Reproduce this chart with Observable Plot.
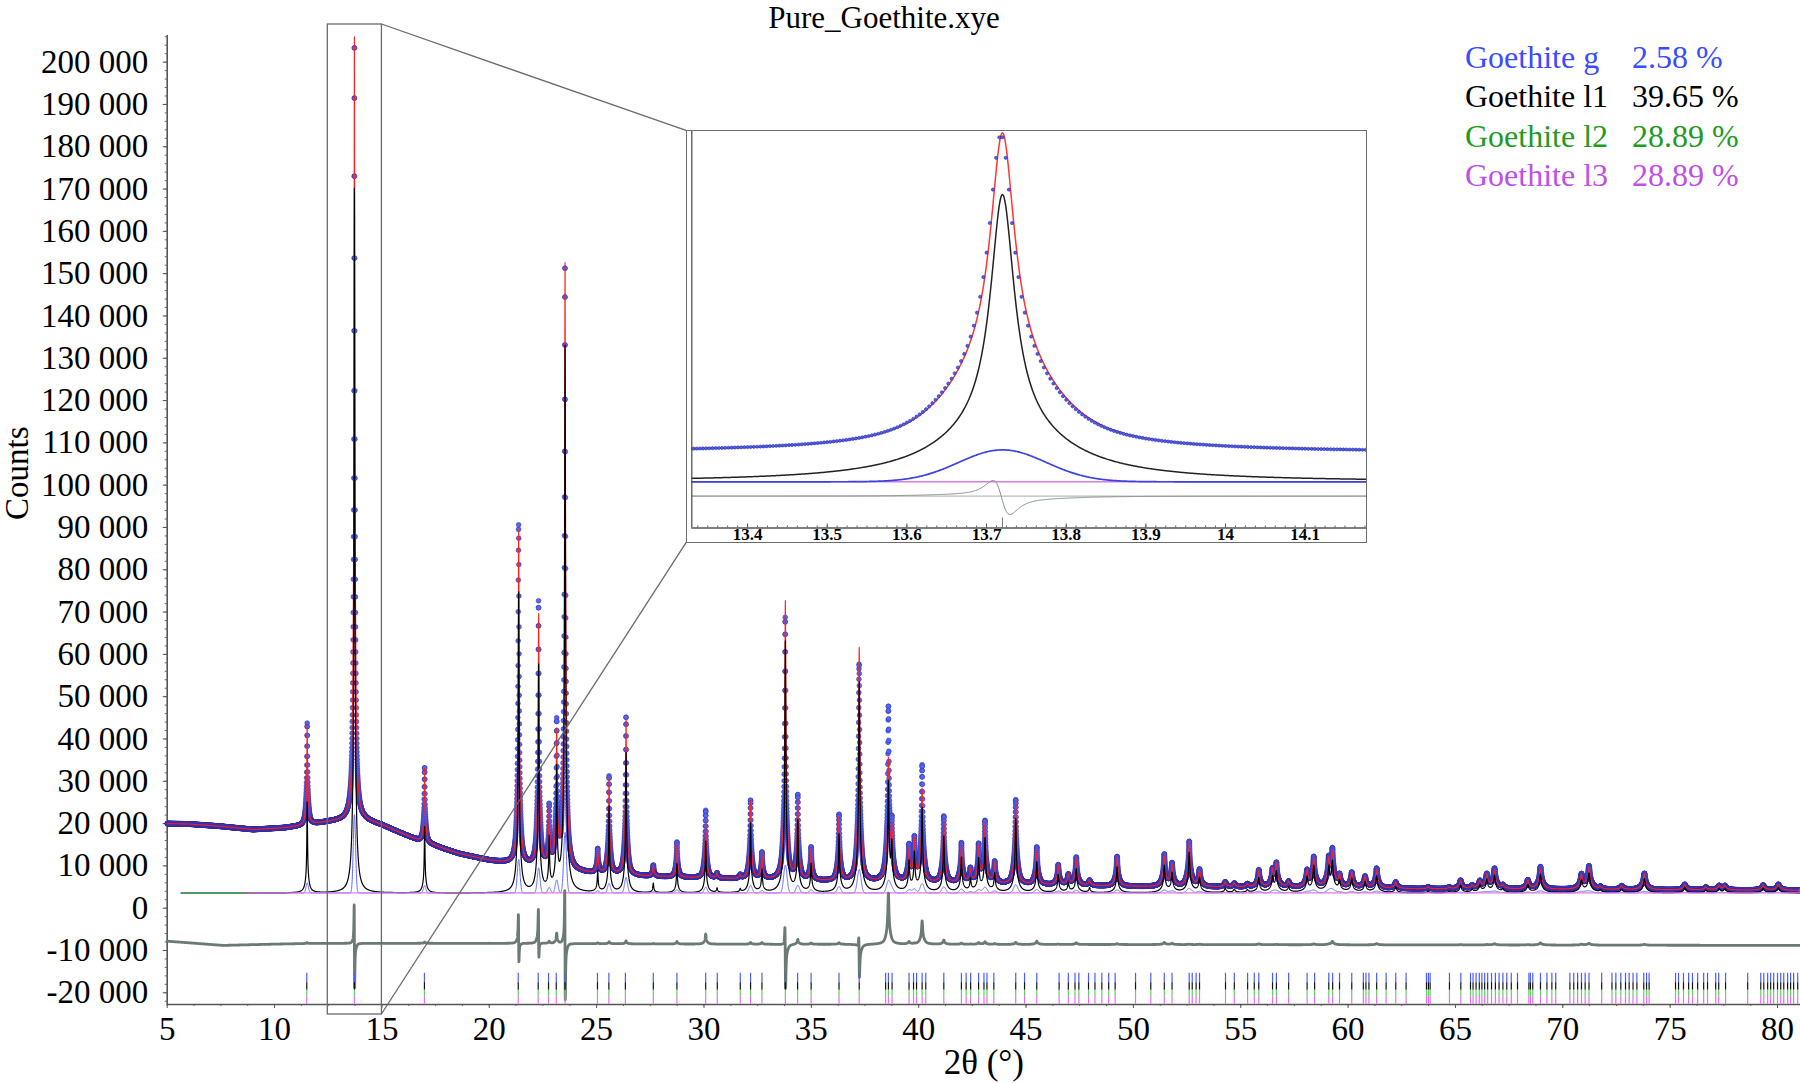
<!DOCTYPE html>
<html>
<head>
<meta charset="utf-8">
<script src="https://cdn.jsdelivr.net/npm/d3@7"></script>
<script src="https://cdn.jsdelivr.net/npm/@observablehq/plot@0.6"></script>
<style>
  body { margin: 0; background: #fff; }
  #fig { position: relative; width: 1800px; height: 1083px; font-family: "Liberation Serif", "Times New Roman", serif; overflow: hidden; }
  #fig > svg { position: absolute; left: 0; top: 0; }
  #title { position: absolute; left: 0; width: 1768px; top: 2px; text-align: center; font-size: 31px; line-height: 31px; color: #000; }
  #legend { position: absolute; left: 1465px; top: 38px; font-size: 32px; line-height: 39.4px; }
  #legend .row { display: flex; white-space: nowrap; }
  #legend .name { width: 167px; }
  #inset { position: absolute; left: 686px; top: 130px; width: 679px; height: 411px; border: 1.3px solid #6d6d6d; background: #fff; }
  #inset svg { position: absolute; left: 0; top: 0; overflow: visible; }
</style>
</head>
<body>
<div id="fig"></div>
<script>
// ---- Refinement of Pure_Goethite.xye (2θ in degrees, intensities in counts) ----

// Peaks: [2θ, observed top, calculated top]
const peakTable = [
  [11.52, 43700, 43500], [13.72, 205000, 206000], [16.99, 33300, 33000],
  [21.37, 90500, 89000], [22.30, 72000, 69000], [22.79, 23000, 22500],
  [23.14, 42400, 40000], [23.53, 151500, 152000], [25.05, 13700, 13500],
  [25.58, 31000, 30500], [26.37, 45200, 44500], [27.64, 10100, 10000],
  [28.74, 15600, 15000], [30.08, 23100, 20700], [30.61, 8200, 8200],
  [31.69, 7700, 7700], [32.17, 25400, 25000], [32.70, 12900, 12500],
  [33.79, 68500, 72500], [34.37, 26200, 25000], [34.99, 14100, 13800],
  [36.29, 21900, 21500], [37.23, 57500, 61500], [38.59, 46300, 34200],
  [38.75, 16800, 16800], [39.55, 14100, 13500], [39.80, 15600, 15500],
  [40.16, 33300, 27800], [41.17, 21500, 20500], [41.99, 15100, 14800],
  [42.41, 8900, 8800], [42.79, 14400, 14000], [43.09, 20100, 19500],
  [43.54, 10600, 10400], [44.52, 25500, 25000], [45.50, 14300, 13500],
  [46.50, 10100, 10000], [46.97, 7700, 7700], [47.34, 11900, 11500],
  [47.96, 6500, 6500], [49.24, 12200, 12000], [51.44, 12500, 12000],
  [51.80, 10300, 10000], [52.60, 15600, 15500], [53.08, 8900, 8800],
  [54.28, 6100, 6100], [54.70, 5800, 5800], [55.31, 5600, 5600],
  [55.84, 8900, 8700], [56.48, 8500, 8500], [56.66, 10100, 10000],
  [57.23, 6100, 6100], [58.09, 8500, 8500], [58.40, 11700, 11500],
  [59.10, 10600, 10500], [59.27, 12800, 12000], [59.60, 7300, 7300],
  [60.17, 8200, 8200], [60.79, 7300, 7300], [61.33, 9300, 9000],
  [62.22, 6100, 6100], [63.73, 5000, 5000], [64.71, 4900, 4900],
  [65.24, 6500, 6400], [65.78, 5200, 5200], [66.14, 6100, 6100],
  [66.46, 7700, 7600], [66.82, 9100, 8800], [67.21, 5200, 5200],
  [68.37, 6500, 6400], [68.96, 9700, 9200], [70.87, 7700, 7500],
  [71.22, 9700, 9300], [71.75, 4900, 4900], [72.74, 5200, 5200],
  [73.80, 8200, 8000], [75.68, 5600, 5600], [76.66, 4900, 4900],
  [77.28, 5200, 5200], [77.55, 5200, 5200], [79.33, 5400, 5400],
  [80.04, 5600, 5600]
];

// Offset of the observed peak centre from the calculated one: [2θ, Δ2θ]
const obsShifts = [
  [13.72, -0.002], [21.37, -0.003], [22.30, -0.004], [23.53, -0.004],
  [33.79, -0.006], [37.23, -0.005]
];

// Refined background: [2θ, counts]
const bgKnots = [
  [5, 20000], [6, 19900], [7.4, 19400], [9, 18600], [10.4, 19000], [11.2, 19400],
  [12.5, 20400], [13.3, 20800], [13.7, 20900], [14.2, 20700], [15, 19600],
  [16, 17500], [16.7, 16000], [17.4, 14900], [18.6, 12900], [20, 11300],
  [21, 10500], [22, 9700], [23, 9200], [24, 8500], [25, 8100], [27, 7600],
  [30, 7100], [33, 6700], [36, 6300], [40, 5900], [45, 5500], [50, 5100],
  [55, 4900], [60, 4700], [65, 4500], [70, 4400], [75, 4300], [81.1, 4200]
];

// Peak broadening relative to the 13.72° reflection: [2θ, factor]
const widthKnots = [[5, 1], [14, 1], [30, 1.3], [45, 1.8], [60, 2.4], [81.1, 3.2]];

// Offset line of the difference curve (obs − calc): [2θ, counts]
const diffKnots = [[5, -7800], [7.6, -8800], [10, -8500], [12, -8300], [20, -8300], [30, -8500], [50, -8600], [81.1, -8800]];

// Reflection markers (2θ)
const reflections = [
  11.50, 13.72, 16.98, 21.35, 22.28, 22.76, 23.12, 23.53, 25.04, 25.57, 26.34,
  27.64, 28.74, 30.08, 30.62, 31.69, 32.17, 32.70, 33.79, 34.36, 34.99, 36.29,
  37.23, 38.46, 38.59, 38.76, 39.55, 39.76, 39.90, 40.16, 40.33, 41.17, 41.99,
  42.21, 42.42, 42.79, 43.04, 43.18, 43.50, 44.52, 44.93, 45.50, 46.54, 46.97,
  47.28, 47.46, 47.91, 48.21, 48.53, 48.85, 49.15, 50.10, 50.81, 51.44, 51.80,
  52.60, 52.74, 52.92, 53.08, 54.29, 54.70, 55.32, 55.63, 55.84, 56.48, 56.66,
  57.23, 58.09, 58.44, 59.10, 59.28, 59.60, 60.17, 60.71, 60.83, 60.97, 61.33,
  61.77, 62.22, 62.70, 63.65, 63.74, 63.82, 64.72, 65.25, 65.70, 65.82, 65.96,
  66.11, 66.23, 66.36, 66.50, 66.68, 66.86, 67.03, 67.21, 67.39, 67.60, 67.89,
  68.42, 68.49, 68.60, 68.96, 69.26, 69.49, 69.67, 70.33, 70.51, 70.69, 70.87,
  71.04, 71.22, 71.81, 72.29, 72.47, 72.70, 72.92, 73.09, 73.27, 73.45, 73.77,
  73.90, 74.02, 75.25, 75.39, 75.62, 75.86, 76.04, 76.28, 76.56, 76.74, 77.12,
  77.26, 77.58, 78.61, 79.22, 79.36, 79.54, 79.68, 79.82, 80.00, 80.15, 80.29,
  80.47, 80.61, 80.75, 80.94
];

// Phases and weight fractions
const phaseNames  = ["Goethite g", "Goethite l1", "Goethite l2", "Goethite l3"];
const phaseWt     = ["2.58 %", "39.65 %", "28.89 %", "28.89 %"];
const phaseColors = ["#3a4cff", "#000000", "#229a22", "#c04ee8"];

// Axis ticks
const yMajor = d3.range(-20000, 200001, 10000);
const yMinor = d3.range(-22000, 206001, 2000);
const xMajor = d3.range(5, 81, 5);
const xMinor = d3.range(5, 81.1, 1.25);
const insetMajor = [13.4, 13.5, 13.6, 13.7, 13.8, 13.9, 14, 14.1];
const insetMinor = d3.range(13.3375, 14.18, 0.0125);

// ---- profile model ----
const componentBase = 3600;     // zero level of the phase components
const insetDiffOffset = -4700;  // difference offset in the enlarged view
const step = 0.004;             // data step (°2θ)
const xDomain = [5, 81.07];
const insetDomain = [13.33, 14.177];
const zoomWindow = [12.48, 15.0];

const lerp = (knots, x) => {
  if (x <= knots[0][0]) return knots[0][1];
  for (let i = 1; i < knots.length; i++) {
    if (x <= knots[i][0]) {
      const [x0, y0] = knots[i - 1], [x1, y1] = knots[i];
      return y0 + (y1 - y0) * (x - x0) / (x1 - x0);
    }
  }
  return knots[knots.length - 1][1];
};
const shiftOf = new Map(obsShifts);
const lorentz = (d, w) => 0.8 / (1 + (d / w) ** 2) + 0.2 / (1 + (d / (5 * w)) ** 2);
const gauss = (d, s) => Math.exp(-d * d / (2 * s * s));
const peaks = peakTable.map(([p, o, c]) => {
  const b = lerp(bgKnots, p), k = lerp(widthKnots, p);
  return { p, s: shiftOf.get(p) || 0, hc: c - b, ho: o - b, w: 0.018 * k, sg: 0.055 * k };
});
function evaluate(t, diffOffset) {
  let l1 = 0, g = 0, ob = 0;
  for (const pk of peaks) {
    const d = t - pk.p;
    if (d > 3 || d < -3) continue;
    l1 += 0.9 * pk.hc * lorentz(d, pk.w);
    g += 0.1 * pk.hc * gauss(d, pk.sg);
    const d2 = d - pk.s;
    ob += pk.ho * (0.9 * lorentz(d2, pk.w) + 0.1 * gauss(d2, pk.sg));
  }
  const b = lerp(bgKnots, t);
  const obs = b + ob, calc = b + l1 + g;
  return { t, obs, calc, l1: componentBase + l1, g: componentBase + g, diff: obs - calc + diffOffset };
}
const apexes = peaks.flatMap(pk => [pk.p, pk.p + pk.s]);
const mainObs = d3.range(xDomain[0], xDomain[1], step).map(t => evaluate(t, lerp(diffKnots, t)));
const mainLine = d3.sort(d3.range(xDomain[0], xDomain[1], step).concat(apexes)).map(t => evaluate(t, lerp(diffKnots, t)));
const mainComp = mainLine.filter(d => d.t >= 5.65);
const insetObs = d3.range(insetDomain[0] - 0.01, insetDomain[1] + 0.01, step).map(t => evaluate(t, insetDiffOffset));
const insetLine = d3.sort(d3.range(insetDomain[0] - 0.01, insetDomain[1] + 0.01, 0.001).concat(apexes.filter(a => a > 13 && a < 14.5))).map(t => evaluate(t, insetDiffOffset));

const fmtCounts = v => (v < 0 ? "-" : "") + String(Math.abs(v)).replace(/\B(?=(\d{3})+(?!\d))/g, " ");

// ---- main chart ----
const main = Plot.plot({
  width: 1800, height: 1083,
  marginLeft: 166.7, marginRight: 0, marginTop: 35, marginBottom: 79,
  x: { domain: xDomain },
  y: { domain: [-22770, 206300] },
  style: { fontFamily: "'Liberation Serif', 'Times New Roman', serif", background: "transparent", color: "#000", overflow: "visible" },
  marks: [
    Plot.axisY({ ticks: yMinor, tickSize: 2, tickFormat: () => "", stroke: "#666", label: null }),
    Plot.axisY({ ticks: yMajor, tickSize: 4, tickPadding: 15, tickFormat: fmtCounts, fontSize: 33, stroke: "#555", label: null }),
    Plot.axisX({ ticks: xMinor, tickSize: 2, tickFormat: () => "", stroke: "#666", label: null }),
    Plot.axisX({ ticks: xMajor, tickSize: 4, tickPadding: 8, fontSize: 33, stroke: "#555", label: null }),
    Plot.ruleX([xDomain[0]], { stroke: "#555", strokeWidth: 1.6 }),
    Plot.ruleY([-22770], { stroke: "#555", strokeWidth: 1.6 }),
    // observed
    Plot.dot(mainObs, { x: "t", y: "obs", r: 2.4, fill: "#4d68ff", stroke: "#35299a", strokeWidth: 0.5 }),
    // calculated
    Plot.line(mainLine, { x: "t", y: "calc", stroke: "#ff1f1f", strokeWidth: 1.1 }),
    // phase components
    Plot.line(mainComp, { x: "t", y: "g", stroke: "#5a66ff", strokeWidth: 1 }),
    Plot.line(mainComp, { x: "t", y: "l1", stroke: "#000", strokeWidth: 1.2 }),
    Plot.ruleY([componentBase], { x1: 5.65, x2: 8.7, stroke: "#5cc45c", strokeWidth: 1.3 }),
    Plot.ruleY([componentBase], { x1: 8.7, x2: xDomain[1], stroke: "#e27ae8", strokeWidth: 1.3 }),
    // difference
    Plot.line(mainLine, { x: "t", y: "diff", stroke: "#6b7a72", strokeWidth: 2.8 }),
    // reflection markers
    Plot.ruleX(reflections, { x: d => d, y1: -15400, y2: -17600, stroke: "#4b5cff", strokeWidth: 1.2 }),
    Plot.ruleX(reflections, { x: d => d, y1: -17600, y2: -19400, stroke: "#111", strokeWidth: 1.2 }),
    Plot.ruleX(reflections, { x: d => d, y1: -19400, y2: -20900, stroke: "#62d062", strokeWidth: 1.2 }),
    Plot.ruleX(reflections, { x: d => d, y1: -20900, y2: -22700, stroke: "#e070f0", strokeWidth: 1.2 }),
    // axis titles
    Plot.text(["Counts"], { frameAnchor: "left", dx: -149.7, rotate: -90, fontSize: 33, fill: "#000" }),
    Plot.text(["2θ (°)"], { frameAnchor: "bottom", dy: 58, lineAnchor: "middle", fontSize: 35, fill: "#000" })
  ]
});

const fig = document.getElementById("fig");
fig.appendChild(main);

// zoom window and connector lines, placed with the chart's own x scale
const xs = main.scale("x");
const bx1 = xs.apply(zoomWindow[0]), bx2 = xs.apply(zoomWindow[1]);
const boxTop = 35 - 11, boxBottom = 1004 + 10;
const insetLeft = 686.7, insetTop = 130.7, insetBottom = 541.7;
const deco = d3.select(main).append("g").attr("fill", "none").attr("stroke", "#6a6a6a").attr("stroke-width", 1.3);
deco.append("rect").attr("x", bx1).attr("y", boxTop).attr("width", bx2 - bx1).attr("height", boxBottom - boxTop);
deco.append("line").attr("x1", bx2).attr("y1", boxTop).attr("x2", insetLeft).attr("y2", insetTop);
deco.append("line").attr("x1", bx2).attr("y1", boxBottom).attr("x2", insetLeft).attr("y2", insetBottom);

// ---- enlarged view of the 13.72° reflection ----
const insetDiv = document.createElement("div");
insetDiv.id = "inset";
fig.appendChild(insetDiv);
const iH = 411, iBottom = 14.5;
const iY = [-23200, 206750];
const pxPerCount = (iH - iBottom) / (iY[1] - iY[0]);
const inset = Plot.plot({
  width: 679, height: iH,
  marginLeft: 4.3, marginRight: 0, marginTop: 0, marginBottom: iBottom,
  x: { domain: insetDomain },
  y: { domain: iY, axis: null },
  style: { fontFamily: "'Liberation Serif', 'Times New Roman', serif", background: "transparent", color: "#000", overflow: "visible" },
  marks: [
    Plot.ruleY([insetDiffOffset], { stroke: "#b4bcbc", strokeWidth: 1.2 }),
    Plot.ruleY([componentBase], { stroke: "#d77be6", strokeWidth: 1.5 }),
    Plot.line(insetLine, { x: "t", y: "l1", stroke: "#222", strokeWidth: 1.5, clip: true }),
    Plot.line(insetLine, { x: "t", y: "g", stroke: "#3c44e0", strokeWidth: 1.7, clip: true }),
    Plot.line(insetLine, { x: "t", y: "calc", stroke: "#ff3434", strokeWidth: 1.5, clip: true }),
    Plot.dot(insetObs, { x: "t", y: "obs", r: 1.6, fill: "#4a62ff", stroke: "#1d1d85", strokeWidth: 0.5, clip: true }),
    Plot.line(insetLine, { x: "t", y: "diff", stroke: "#8a8f8c", strokeWidth: 1, clip: true }),
    Plot.ruleX(reflections.filter(r => r > insetDomain[0] && r < insetDomain[1]), { x: d => d, y1: iY[0], y2: iY[0] + 10 / pxPerCount, stroke: "#777", strokeWidth: 1 }),
    Plot.ruleX([insetDomain[0]], { stroke: "#555", strokeWidth: 1.3 }),
    Plot.ruleY([iY[0]], { stroke: "#555", strokeWidth: 1.3 }),
    Plot.axisX({ ticks: insetMinor, tickSize: 2, dy: -2, tickFormat: () => "", stroke: "#666", label: null }),
    Plot.axisX({ ticks: insetMajor, tickSize: 4, dy: -4, tickFormat: () => "", stroke: "#555", label: null }),
    Plot.axisX({ ticks: insetMajor, tickSize: 0, tickPadding: 0, tickFormat: d => String(+d.toFixed(1)), fontSize: 17, fontWeight: "bold", label: null })
  ]
});
insetDiv.appendChild(inset);

// ---- title and phase legend ----
const title = document.createElement("div");
title.id = "title";
title.textContent = "Pure_Goethite.xye";
fig.appendChild(title);

const legend = document.createElement("div");
legend.id = "legend";
phaseNames.forEach((name, i) => {
  const row = document.createElement("div");
  row.className = "row";
  row.style.color = phaseColors[i];
  row.innerHTML = `<span class="name"></span><span class="wt"></span>`;
  row.querySelector(".name").textContent = name;
  row.querySelector(".wt").textContent = phaseWt[i];
  legend.appendChild(row);
});
fig.appendChild(legend);
</script>
</body>
</html>
